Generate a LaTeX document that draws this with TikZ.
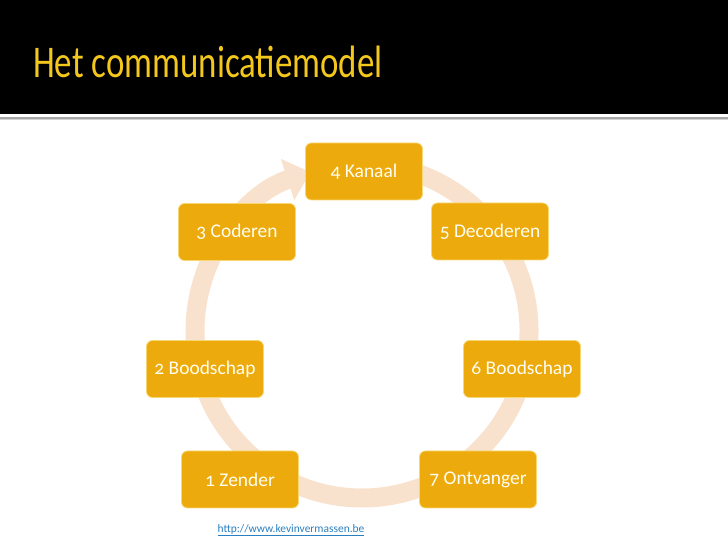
\documentclass[tikz,border=0pt]{standalone}
\usepackage{fontspec}
\setmainfont{Carlito}[Numbers=OldStyle]
\newfontfamily\titelfont[FakeStretch=0.77]{Carlito}
\usetikzlibrary{positioning, arrows.meta}
\usepackage{xcolor}
\definecolor{titelgeel}{HTML}{F4C71C}
\definecolor{blokgoud}{HTML}{EDAA0C}
\definecolor{blokrand}{HTML}{F7D774}
\definecolor{ringkleur}{HTML}{F9E2CD}
\definecolor{linkblauw}{HTML}{2A7FC0}

\begin{document}
\begin{tikzpicture}[
    x=1bp, y=1bp,
    stap/.style={rectangle, rounded corners=6bp, draw=blokrand, fill=blokgoud, line width=0.8bp,
                 minimum width=117bp, minimum height=57bp, text=white!95!yellow,
                 font=\fontsize{19.5}{21}\selectfont},
    ring/.style={ringkleur, line width=19bp, -{Triangle[width=42bp, length=24bp]}}
]
    \useasboundingbox (0,0) rectangle (728,546);

    % Titelbalk
    \fill[black] (0,546) rectangle (728,432);
    \node[anchor=base west, inner sep=0pt, text=titelgeel,
          font=\titelfont\fontsize{45.5}{50}\selectfont] (titel) at (33,468) {Het communicatiemodel};
    \draw[gray!70, line width=1.2bp] (0,428) -- (728,428);
    \draw[gray!35, line width=1bp] (0,426.3) -- (728,426.3);

    % Cirkel
    \coordinate (midden) at (362,215);
    \draw[ring] ([shift={(85:167)}]midden) arc[start angle=85, end angle=-252, radius=167];

    % Stappen
    \node[stap] (s4) at (364,374.5) {4 Kanaal};
    \node[stap] (s5) at (490,314.5) {5 Decoderen};
    \node[stap] (s6) at (522,177) {6 Boodschap};
    \node[stap] (s7) at (478,66.5) {7 Ontvanger};
    \node[stap] (s1) at (240,66.5) {1 Zender};
    \node[stap] (s2) at (205,177) {2 Boodschap};
    \node[stap] (s3) at (237,314) {3 Coderen};

    % Bron
    \node[text=linkblauw, font=\fontsize{11.5}{13}\selectfont] (bron) at (291,16)
        {\underline{http://www.kevinvermassen.be}};
\end{tikzpicture}
\end{document}
